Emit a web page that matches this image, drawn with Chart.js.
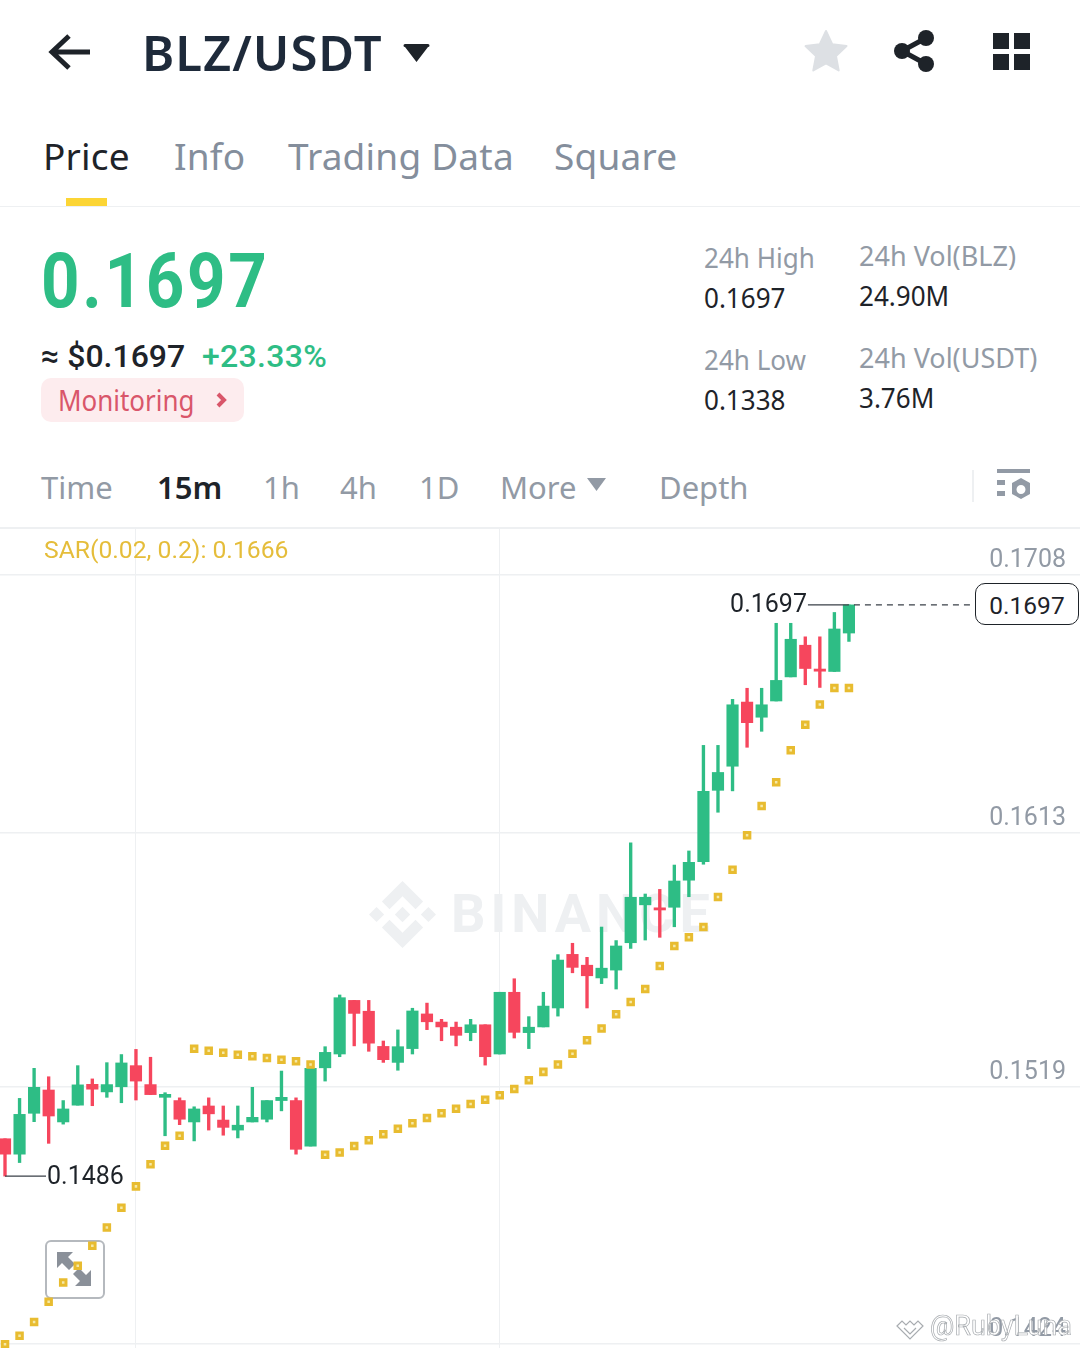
<!DOCTYPE html>
<html>
<head>
<meta charset="utf-8">
<title>BLZ/USDT</title>
<script src="https://cdn.jsdelivr.net/npm/chart.js@4/dist/chart.umd.min.js"></script>
<style>
html,body{margin:0;padding:0;background:#fff;}
#page{position:relative;width:1080px;height:1348px;overflow:hidden;font-family:"Noto Sans",sans-serif;color:#1E2329;}
.t{position:absolute;white-space:nowrap;line-height:1;transform-origin:left center;}
.tab{font-size:37px;color:#848E9C;top:137px;letter-spacing:0.2px;}
.stat{font-size:28px;color:#929AA5;}
.val{font-size:28px;color:#1E2329;transform:scaleX(.93);}
.per{font-size:31px;color:#929AA5;top:472px;}
.rule{position:absolute;left:0;width:1080px;background:#EEF0F2;}
svg{position:absolute;}
#chartWrap{position:absolute;left:0;top:528px;width:1080px;height:820px;z-index:2;}
#logoMark{z-index:1;}
#expandBtn{position:absolute;left:45px;top:1240px;width:56px;height:55px;border:2px solid #B5B9BE;border-radius:6px;background:#fff;z-index:1;}
</style>
</head>
<body>
<div id="page">
  <svg style="left:48px;top:32px" width="44" height="40" viewBox="0 0 44 40"><path d="M42 20H5M21 4L4 20l17 16" fill="none" stroke="#1E2329" stroke-width="5"/></svg>
  <div class="t" style="left:142px;top:28px;font-size:49px;font-weight:600;color:#1E2A3A;letter-spacing:1px" id="pair">BLZ/USDT</div>
  <svg style="left:403px;top:42px" width="27" height="22" viewBox="0 0 27 22"><path d="M2 2h23a1 1 0 0 1 0 3L13.5 20 2 5a1 1 0 0 1 0-3z" fill="#1E2329"/></svg>
  <svg style="left:804px;top:28px" width="44" height="46" viewBox="0 0 44 46"><path d="M22 3l6.2 13.2 14.3 1.9-10.5 10 2.7 14.4L22 35.4 9.3 42.5 12 28.1 1.5 18.1l14.3-1.9z" fill="#DDE0E4" stroke="#DDE0E4" stroke-width="2" stroke-linejoin="round"/></svg>
  <svg style="left:890px;top:26px" width="48" height="50" viewBox="0 0 48 50"><path d="M36 12L12 25l24 13" fill="none" stroke="#1E2329" stroke-width="5"/><circle cx="36" cy="12" r="8" fill="#1E2329"/><circle cx="12" cy="25" r="8" fill="#1E2329"/><circle cx="36" cy="38" r="8" fill="#1E2329"/></svg>
  <svg style="left:993px;top:33px" width="38" height="38" viewBox="0 0 38 38"><g fill="#1E2329"><rect width="16" height="16"/><rect x="21" width="16" height="16"/><rect y="21" width="16" height="16"/><rect x="21" y="21" width="16" height="16"/></g></svg>

  <div class="t tab" style="left:43px;color:#1E2329">Price</div>
  <div class="t tab" style="left:174px">Info</div>
  <div class="t tab" style="left:288px">Trading Data</div>
  <div class="t tab" style="left:554px">Square</div>
  <div style="position:absolute;left:66px;top:198px;width:41px;height:8px;background:#FCD535"></div>
  <div class="rule" style="top:206px;height:1px"></div>

  <div class="t" style="left:41px;top:243px;font-size:76px;font-weight:700;color:#2EBD85;font-family:Roboto;letter-spacing:3px;transform:scaleX(.885)">0.1697</div>
  <div class="t" style="left:41px;top:340px;font-size:32px;font-weight:500;font-family:Roboto">≈ $0.1697</div>
  <div class="t" style="left:202px;top:340px;font-size:32px;font-weight:500;color:#2EBD85;font-family:Roboto;letter-spacing:0.3px">+23.33%</div>
  <div style="position:absolute;left:41px;top:378px;width:203px;height:44px;background:#FDECEE;border-radius:10px"></div>
  <div class="t" style="left:58px;top:385px;font-size:29px;color:#D9566A;transform:scaleX(.895)">Monitoring</div>
  <svg style="left:214px;top:391px" width="16" height="18" viewBox="0 0 16 18"><path d="M4 3l6 6-6 6" fill="none" stroke="#D9566A" stroke-width="4"/></svg>

  <div class="t stat" style="left:704px;top:243px;transform:scaleX(.93)">24h High</div>
  <div class="t val" style="left:704px;top:283px">0.1697</div>
  <div class="t stat" style="left:859px;top:241px;transform:scaleX(.965)">24h Vol(BLZ)</div>
  <div class="t val" style="left:859px;top:281px">24.90M</div>
  <div class="t stat" style="left:704px;top:345px;transform:scaleX(.93)">24h Low</div>
  <div class="t val" style="left:704px;top:385px">0.1338</div>
  <div class="t stat" style="left:859px;top:343px;transform:scaleX(.965)">24h Vol(USDT)</div>
  <div class="t val" style="left:859px;top:383px">3.76M</div>

  <div class="t per" style="left:41px">Time</div>
  <div class="t per" style="left:157px;color:#1E2329;font-weight:600">15m</div>
  <div class="t per" style="left:263px">1h</div>
  <div class="t per" style="left:340px">4h</div>
  <div class="t per" style="left:419px">1D</div>
  <div class="t per" style="left:500px">More</div>
  <svg style="left:587px;top:478px" width="19" height="13" viewBox="0 0 19 13"><path d="M0 0h19L9.5 13z" fill="#929AA5"/></svg>
  <div class="t per" style="left:659px">Depth</div>
  <div style="position:absolute;left:972px;top:470px;width:2px;height:32px;background:#EEF0F2"></div>
  <svg style="left:997px;top:469px" width="34" height="36" viewBox="0 0 34 36"><g fill="#929AA5"><rect width="33" height="4"/><rect y="11" width="8" height="5"/><rect y="22" width="8" height="5"/><path d="M24 9l9 5v11l-9 5-9-5V14zm0 7a4.5 4.5 0 1 0 0 9 4.5 4.5 0 0 0 0-9z" fill-rule="evenodd"/></g></svg>
  <div class="rule" style="top:527px;height:2px"></div>

  <svg id="logoMark" style="left:369px;top:881px" width="67" height="67" viewBox="0 0 126.61 126.61"><path fill="#EEF0F2" d="M38.73 53.2l24.59-24.58 24.6 24.6 14.3-14.31L63.32 0 24.42 38.9zM0 63.31l14.3-14.31 14.31 14.31-14.31 14.3zM38.73 73.41l24.59 24.59 24.6-24.6 14.31 14.29-38.9 38.91-38.91-38.88-.02-.02zM98 63.31l14.3-14.31 14.31 14.3-14.31 14.32zM77.83 63.3L63.32 48.78 52.59 59.51l-1.24 1.23-2.54 2.54 14.51 14.5 14.51-14.47z"/></svg>
  <div class="t" style="left:451px;top:887px;font-size:54px;font-weight:700;color:#EEF0F2;letter-spacing:5px;font-family:Roboto;z-index:1">BINANCE</div>
  <div id="expandBtn"></div>
  <svg style="left:56px;top:1251px;z-index:1" width="36" height="36" viewBox="0 0 36 36"><g fill="#8A9099"><path d="M1 1h16l-5 5 7 7-6 6-7-7-5 5z"/><path d="M35 35H19l5-5-7-7 6-6 7 7 5-5z"/></g></svg>

  <div id="chartWrap"><canvas id="klineChart" width="1080" height="820"></canvas></div>

  <div class="t" style="left:44px;top:538px;font-size:24.7px;color:#E5BD3A;font-family:Roboto;z-index:3">SAR(0.02, 0.2): 0.1666</div>
  <div id="lastPill" class="t" style="left:975px;top:583px;width:102px;height:40px;line-height:44px;text-align:center;font-size:24.5px;font-family:Roboto;border:1.5px solid #1E2329;border-radius:10px;background:#fff;z-index:3"></div>
  <div class="t" style="left:930px;top:1313px;font-size:27px;color:#fff;-webkit-text-stroke:0.7px #A8ACB0;font-family:Roboto;z-index:3">@RubyLuna</div>
  <svg style="left:896px;top:1316px;z-index:3" width="28" height="24" viewBox="0 0 28 24"><path d="M1 10l5-5 4 4 4-4 4 4 4-4 5 5-13 13zM8 12l6 6 6-6" fill="#fff" stroke="#A8ACB0" stroke-width="1.2"/></svg>
</div>

<script>
// 15m candles left to right
const opens = [
    0.14998, 0.14941, 0.15092, 0.15178, 0.1506, 0.15122, 0.15199, 0.15171, 0.1519, 0.15268,
    0.15198, 0.15151, 0.15139, 0.1506, 0.15119, 0.15067, 0.1503, 0.1506, 0.1507, 0.15139,
    0.15139, 0.14971, 0.1526, 0.15311, 0.15509, 0.15469, 0.15339, 0.1528, 0.15331, 0.15459,
    0.15429, 0.1541, 0.1539, 0.15419, 0.15311, 0.15539, 0.1539, 0.15411, 0.15481, 0.15679,
    0.15639, 0.15592, 0.15621, 0.15722, 0.15862, 0.15851, 0.15853, 0.15953, 0.16021, 0.16285,
    0.16374, 0.16611, 0.16555, 0.16615, 0.16704, 0.16821, 0.16733, 0.16724, 0.16866,
];
const highs = [
    0.14998, 0.15147, 0.15258, 0.15227, 0.15139, 0.15268, 0.15219, 0.15279, 0.15309, 0.15328,
    0.15299, 0.15168, 0.15149, 0.15116, 0.15149, 0.15119, 0.15119, 0.15188, 0.15139, 0.15248,
    0.15149, 0.15267, 0.15338, 0.15529, 0.15509, 0.15509, 0.15359, 0.154, 0.1548, 0.15499,
    0.15439, 0.15429, 0.15439, 0.15419, 0.15539, 0.15589, 0.15449, 0.15539, 0.15678, 0.1572,
    0.15668, 0.1578, 0.1573, 0.16091, 0.15902, 0.15919, 0.16009, 0.16061, 0.16451, 0.16451,
    0.16621, 0.16662, 0.16662, 0.16902, 0.16902, 0.16852, 0.16852, 0.16942, 0.1697,
];
const lows = [
    0.1486, 0.1491, 0.15061, 0.14981, 0.15052, 0.15122, 0.1512, 0.15151, 0.15131, 0.15141,
    0.15161, 0.15009, 0.1505, 0.1499, 0.1503, 0.15011, 0.15001, 0.1506, 0.1506, 0.15101,
    0.14941, 0.14971, 0.15211, 0.15301, 0.15341, 0.15321, 0.1528, 0.15251, 0.15311, 0.15401,
    0.1536, 0.15341, 0.1536, 0.1527, 0.15311, 0.1537, 0.15331, 0.15411, 0.15451, 0.15611,
    0.15481, 0.15571, 0.15551, 0.15701, 0.15732, 0.15742, 0.15781, 0.15892, 0.16012, 0.16204,
    0.16283, 0.16444, 0.16503, 0.16615, 0.16704, 0.16675, 0.16665, 0.16724, 0.16835,
];
const closes = [
    0.14941, 0.15088, 0.15188, 0.15082, 0.15108, 0.15197, 0.15181, 0.15198, 0.15278, 0.15211,
    0.15161, 0.15162, 0.1507, 0.15108, 0.1509, 0.1504, 0.15048, 0.15077, 0.15139, 0.15151,
    0.14959, 0.15258, 0.15317, 0.15519, 0.15461, 0.15351, 0.1529, 0.15338, 0.1547, 0.1543,
    0.15411, 0.1538, 0.15419, 0.15301, 0.15539, 0.15391, 0.1541, 0.15488, 0.15658, 0.15631,
    0.156, 0.15628, 0.1571, 0.1589, 0.1589, 0.15843, 0.1595, 0.16019, 0.16281, 0.16351,
    0.16601, 0.16535, 0.16601, 0.16691, 0.16843, 0.16735, 0.16725, 0.16881, 0.1697,
];
const sar = [
    0.14239, 0.1427, 0.14321, 0.14396, 0.14467, 0.14529, 0.14603, 0.1467, 0.14743, 0.14822,
    0.14904, 0.14972, 0.15009, 0.1533, 0.15323, 0.15316, 0.15308, 0.15303, 0.15296, 0.1529,
    0.15284, 0.15272, 0.14939, 0.14947, 0.14971, 0.14992, 0.15015, 0.15035, 0.15055, 0.15075,
    0.15092, 0.15109, 0.15126, 0.15142, 0.15159, 0.15182, 0.15214, 0.15245, 0.15272, 0.15312,
    0.15362, 0.15405, 0.15458, 0.15503, 0.15551, 0.15636, 0.1571, 0.15742, 0.1578, 0.15891,
    0.15992, 0.16119, 0.16227, 0.16315, 0.16433, 0.16527, 0.16602, 0.16663, 0.16663,
];
const priceTicks = [0.1708, 0.1613, 0.1519, 0.1424];
const timeGridAt = [9, 34];

const GREEN = '#2EBD85';
const RED = '#F6465D';
const INK = '#1E2329';

const candleColors = opens.map((o, i) => (closes[i] >= o ? GREEN : RED));
const lastIndex = closes.length - 1;
const lastPrice = closes[lastIndex];

document.getElementById('lastPill').textContent = lastPrice.toFixed(4);

// high/low callouts and the dashed last price line
const calloutPlugin = {
    id: 'callouts',
    afterDatasetsDraw(chart) {
        const { ctx, scales: { x, y } } = chart;
        const highIdx = highs.indexOf(Math.max(...highs));
        const lowIdx = lows.indexOf(Math.min(...lows));
        const hx = x.getPixelForValue(highIdx);
        const hy = y.getPixelForValue(highs[highIdx]);
        const lx = x.getPixelForValue(lowIdx);
        const ly = y.getPixelForValue(lows[lowIdx]);

        ctx.save();
        ctx.strokeStyle = '#3A4048';
        ctx.lineWidth = 1.2;
        ctx.beginPath();
        ctx.moveTo(hx, hy);
        ctx.lineTo(hx - 41, hy);
        ctx.moveTo(lx, ly);
        ctx.lineTo(lx + 41, ly);
        ctx.stroke();

        ctx.setLineDash([6, 5]);
        ctx.beginPath();
        ctx.moveTo(x.getPixelForValue(lastIndex) + 5, y.getPixelForValue(lastPrice));
        ctx.lineTo(972, y.getPixelForValue(lastPrice));
        ctx.stroke();

        ctx.setLineDash([]);
        ctx.fillStyle = INK;
        ctx.font = '25px Roboto';
        ctx.textBaseline = 'middle';
        ctx.textAlign = 'right';
        ctx.fillText(highs[highIdx].toFixed(4), hx - 42, hy + 1);
        ctx.textAlign = 'left';
        ctx.fillText(lows[lowIdx].toFixed(4), lx + 42, ly + 2);
        ctx.restore();
    },
};

// let the plot run edge to edge, labels sit inside it
const noAxisRoom = (axis) => {
    axis.paddingLeft = 0;
    axis.paddingRight = 0;
    axis.paddingTop = 0;
    axis.paddingBottom = 0;
    if (axis.isHorizontal()) axis.height = 0;
    else axis.width = 0;
};

new Chart(document.getElementById('klineChart'), {
    type: 'bar',
    data: {
        datasets: [
            {
                data: lows.map((l, i) => ({ x: i, y: [l, highs[i]] })),
                backgroundColor: candleColors,
                barThickness: 2.7,
                order: 3,
            },
            {
                data: opens.map((o, i) => ({ x: i, y: [o, closes[i]] })),
                backgroundColor: candleColors,
                barThickness: 11.5,
                order: 2,
            },
            {
                type: 'line',
                data: sar.map((s, i) => ({ x: i, y: s })),
                showLine: false,
                pointStyle: 'rect',
                pointRadius: 3.9,
                pointBorderWidth: 3,
                pointBorderColor: '#E8BC30',
                pointBackgroundColor: '#F5E9A8',
                order: 1,
            },
        ],
    },
    options: {
        responsive: false,
        animation: false,
        events: [],
        grouped: false,
        layout: { padding: 0, autoPadding: false },
        plugins: { legend: { display: false }, tooltip: { enabled: false } },
        scales: {
            x: {
                type: 'linear',
                offset: false,
                min: -0.344,
                max: 73.88,
                afterBuildTicks: (axis) => {
                    axis.ticks = timeGridAt.map((value) => ({ value }));
                },
                afterFit: noAxisRoom,
                ticks: { display: false },
                border: { display: false },
                grid: { offset: false, color: '#EEF0F2', lineWidth: 1, drawTicks: false },
            },
            y: {
                position: 'right',
                min: 0.14225,
                max: 0.17254,
                afterBuildTicks: (axis) => {
                    axis.ticks = priceTicks.map((value) => ({ value }));
                },
                afterFit: noAxisRoom,
                ticks: {
                    mirror: true,
                    padding: -14,
                    labelOffset: -14,
                    color: '#929AA5',
                    font: { family: 'Roboto', size: 25 },
                    callback: (value) => value.toFixed(4),
                },
                border: { display: false },
                grid: { color: '#EEF0F2', lineWidth: 1.5, drawTicks: false },
            },
        },
    },
    plugins: [calloutPlugin],
});
</script>
</body>
</html>
